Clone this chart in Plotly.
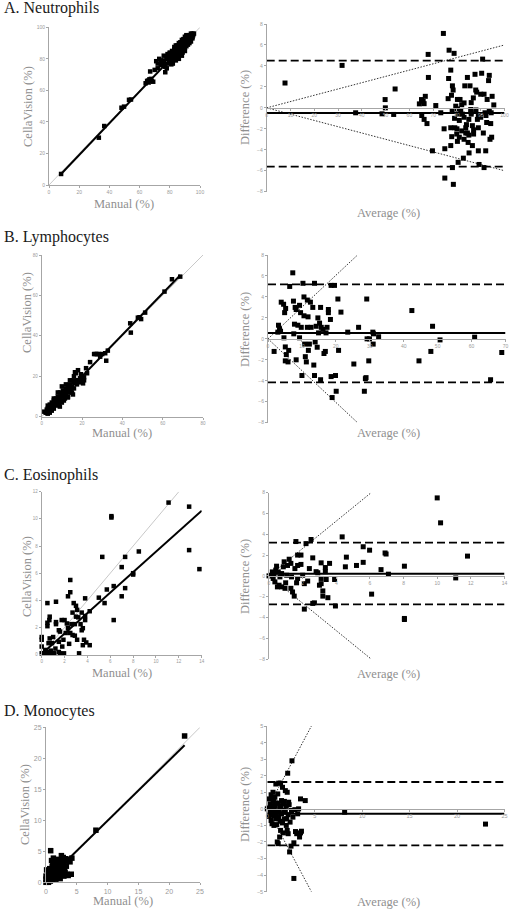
import plotly.graph_objects as go

W, H = 510, 909

# ---------------- A. Neutrophils ----------------
neut_manual = [8, 33, 36.6, 48, 49.7, 53, 54.3, 64, 65, 65.8,
               66.5, 67, 67.5, 68, 69, 66, 65.3, 71, 72, 73,
               74, 75, 76, 76, 77, 77, 78, 78, 78.5, 79,
               79.5, 80, 80, 80.5, 81, 81, 81.5, 82, 82, 82.5,
               83, 83, 83.5, 84, 84, 84.5, 85, 85, 85.5, 86,
               86, 86.5, 87, 87, 87.5, 88, 88, 88.5, 89, 89,
               89.5, 90, 90, 90.5, 91, 91, 91.5, 92, 92, 92.5,
               93, 93, 93.5, 94, 94, 94.5, 95, 95, 95.5, 96,
               92, 90, 88, 86, 84, 82, 89, 91, 87, 85,
               83, 80, 78, 76, 74, 72, 70, 93, 94, 95,
               91, 90, 88, 86, 84]
neut_cv = [7, 30, 37.4, 49, 49.7, 54, 54.2, 64.5, 66, 66.2,
           67, 72, 67.3, 66, 65.5, 65, 65.8, 78.5, 77, 80,
           76, 78, 79, 82, 71.5, 75, 74, 80, 83, 77,
           81, 78, 84, 82, 76.5, 80, 85, 79, 83, 81,
           86, 84, 80, 82, 85, 87, 83, 86, 81, 88,
           84, 86, 83, 89, 85, 87, 90, 84, 88, 86,
           91, 89, 87, 93, 90, 88, 92, 94, 90, 91,
           95, 92, 94, 93, 96, 95, 94, 96, 95, 96,
           89, 85, 82, 80, 79, 77, 92.5, 94.5, 90.5, 88.5,
           87.5, 83.5, 81.5, 77, 79, 74, 73, 90, 91, 93,
           95, 94, 92, 90, 88.5]
neut_fit_x = [8, 96]
neut_fit_y = [7.0, 95.5]
neut_avg = [7.7, 31.7, 37.4, 48.5, 49.8, 49.9, 53.4, 54.0, 64.2, 65.1,
            65.8, 65.2, 66.2, 66.7, 66.2, 67.4, 68.0, 67.9, 71.1, 69.7,
            74.3, 73.2, 74.6, 74.9, 74.9, 76.7, 78.8, 77.4, 76.5, 76.3,
            77.7, 78.1, 78.4, 77.4, 77.8, 77.4, 78.1, 78.5, 79.1, 79.5,
            80.2, 80.5, 80.2, 79.9, 80.2, 80.5, 81.3, 81.6, 82.3, 82.7,
            83.3, 83.0, 83.7, 83.7, 84.4, 84.4, 84.7, 85.1, 85.5, 85.8,
            86.0, 86.5, 86.5, 86.9, 87.6, 87.9, 88.3, 88.6, 89.0, 89.3,
            90.0, 90.4, 90.8, 91.1, 91.4, 91.4, 91.8, 92.1, 92.2, 92.5,
            92.7, 93.3, 93.6, 93.6, 93.9, 94.2, 94.4, 94.6, 94.8, 95.5,
            79, 80, 81, 82, 83, 84, 85, 86, 87, 88,
            89, 90, 81, 83, 85, 87, 89, 78, 82, 86]
neut_diff = [2.37, 4.05, -0.47, -0.57, 0.79, 0.0, -0.63, 1.8, 0.38, 0.79,
             0.63, -0.73, -1.1, 1.1, 0.4, -1.5, 2.9, 5.1, 0.22, -4.1,
             7.1, -0.47, -2.0, -3.9, -6.7, 5.5, 5.2, 3.6, 2.8, 0.88,
             1.2, 2.1, 1.7, -1.9, -2.75, -3.6, -5.7, -7.3, -1.9, 0.16,
             -0.1, -0.6, 0.8, -2.5, -3.2, -5.2, 0.8, -0.3, -0.6, -4.8,
             2.1, 0.47, -1.9, -2.4, 2.9, -2.4, -3.3, -4.3, 2.1, -0.16,
             -0.6, -1.7, -3.6, 0.95, 3.2, 1.7, 1.5, -1.1, -4.1, -5.4,
             1.3, 3.3, 4.65, -2.4, 1.3, -5.7, -0.47, -4.1, -0.73, -1.4,
             0.8, 2.6, 3.1, -0.3, -3.0, -1.5, -0.47, -2.8, 1.1, 0.28,
             -1.0, -2.0, -1.2, -2.2, -0.9, -1.6, -2.6, -0.4, -2.1, -0.2,
             -1.9, -0.9, -2.8, -3.0, -1.1, -2.5, -0.7, -0.3, 0.3, 0.5]
neut_bias = -0.5
neut_loa = [4.5, -5.6]
neut_cone = [100, 6]

# ---------------- B. Lymphocytes ----------------
lymph_manual = [1.3, 2, 2.5, 3, 3, 3.5, 4, 4, 4.5, 5,
                5, 5.5, 6, 6, 6.5, 7, 7, 7.5, 8, 8,
                8.5, 9, 9, 9.5, 10, 10, 10.5, 11, 11, 11.5,
                12, 12, 12.5, 13, 13, 13.5, 14, 14, 14.5, 15,
                15, 15.5, 16, 16, 16.5, 17, 17, 17.5, 18, 18,
                18.5, 19, 19, 19.5, 20, 20.5, 21, 21, 22, 22.5,
                24, 26, 26.8, 27.5, 28.2, 29, 30, 31.5, 32, 32.8,
                43.9, 44.2, 47.7, 48.5, 49.3, 51.3, 60.9, 64.6, 68.7, 8,
                6, 10, 12, 14, 9, 11, 13, 15, 5, 4,
                16, 3]
lymph_cv = [2.5, 2, 3.5, 4, 5.5, 3, 6, 4.5, 3.5, 7,
            5, 6, 4, 8, 6.5, 5.5, 9, 7, 8, 10,
            6, 9.5, 12, 8, 11, 7, 13, 10, 12, 9,
            14, 11, 13, 10, 15, 12, 14, 16, 13, 18,
            15, 11, 17, 14, 22, 18, 21.5, 16, 23, 18,
            17, 19, 17.5, 21, 20, 16.5, 18, 19.5, 24, 21.5,
            27, 31, 31, 31, 31, 29.7, 31, 31.4, 27.7, 32.7,
            46.2, 41.6, 49, 49.2, 48.3, 51.5, 61.9, 68, 69.3, 12,
            9, 15, 16, 18, 5, 8, 9.5, 12, 3, 2,
            20, 1.5]
lymph_fit_x = [1.5, 68.7]
lymph_fit_y = [1.0, 70.0]
lymph_avg = [1.8, 3.1, 3.4, 2.9, 3.7, 3.9, 4.6, 4.9, 5.2, 4.7,
             5.1, 5.4, 5.1, 5.9, 6.1, 6.4, 7.3, 7.5, 7.6, 7.8,
             8.0, 8.3, 8.3, 8.8, 9.3, 9.3, 9.6, 9.8, 10.0, 10.3,
             10.6, 10.6, 10.8, 11.0, 11.3, 11.6, 11.6, 11.8, 11.9, 12.2,
             12.5, 12.7, 13.2, 13.5, 13.7, 13.7, 13.9, 14.2, 14.5, 14.7,
             14.9, 15.2, 15.5, 15.5, 15.7, 16.2, 16.5, 16.9, 17.1, 17.4,
             17.8, 17.8, 18.4, 18.6, 18.6, 18.9, 19.6, 19.9, 20.1, 20.6,
             20.8, 21.5, 23.5, 25.3, 26.7, 28.7, 28.9, 28.4, 29.1, 29.2,
             29.7, 29.9, 30.9, 31.0, 31.1, 32.6, 42.4, 44.5, 48.5, 48.0,
             50.7, 60.9, 65.6, 68.9]
lymph_diff = [-1.2, 1.3, 0.96, 0.64, 0.73, 3.5, 3.3, 2.5, 2.9, 0.1,
              -0.77, -1.5, -2.1, -2.2, -1.1, 5.0, 6.3, 3.6, 0.48, 1.4,
              3.0, -2.0, 2.8, 1.3, 3.2, 0.1, 2.5, 1.1, -3.5, 5.3,
              4.0, 2.2, -0.5, -1.7, -2.2, 3.7, 1.1, 2.1, -1.1, -0.5,
              3.5, 1.1, 3.0, -2.5, 5.3, -3.5, -0.3, 1.2, -0.8, 2.0,
              0.57, 1.5, 3.0, -3.9, 1.1, 0.9, -1.4, -1.2, 0.57, 1.1,
              2.5, 2.8, 1.85, -3.6, 5.1, -5.6, 5.1, -3.5, -5.0, 3.8,
              -1.1, 2.55, 0.64, -2.4, 1.1, -3.8, -3.7, -5.0, 3.8, 0.0,
              -2.1, 0.0, 0.64, -0.5, 0.48, 0.2, 2.7, -2.1, 1.2, -1.2,
              -0.1, 0.16, -3.9, -1.3]
lymph_bias = 0.55
lymph_loa = [5.2, -4.15]
lymph_cone = [26.4, 8]

# ---------------- C. Eosinophils ----------------
eos_manual = [11.1, 12.9, 12.9, 13.8, 6.1, 6.1, 5.3, 7.3, 8.5, 7.0,
              8.0, 8.0, 6.3, 5.7, 7.3, 7.0, 5.0, 5.5, 6.3, 2.5,
              2.5, 2.3, 2.8, 3.0, 3.1, 0.5, 1.25, 3.8, 3.5, 4.2,
              3.8, 3.2, 2.0, 1.75, 2.2, 1.25, 0.67, 0.5, 0.7, 0.5,
              1.25, 1.5, 1.6, 2.1, 2.3, 2.5, 2.6, 2.9, 3.0, 3.5,
              3.8, 3.6, 3.4, 2.9, 3.1, 2.7, 3.7, 3.9, 4.2, 3.6,
              1.9, 1.5, 1.0, 0.7, 0.6, 0.9, 0, 0, 0, 0,
              0.4, 0.7, 1.0, 1.6, 1.95, 0.3, 1.2, 2.7, 3.27, 1.5,
              0.2, 0.8, 1.1, 0.1, 0.5, 1.8, 2.4]
eos_cv = [11.2, 10.9, 7.7, 6.3, 10.2, 10.1, 7.2, 7.2, 7.6, 6.45,
          6.0, 5.9, 5.05, 4.8, 4.9, 4.3, 4.2, 3.8, 2.55, 5.5,
          4.6, 4.3, 3.8, 3.6, 3.3, 3.8, 3.9, 4.15, 3.1, 3.2,
          2.85, 2.75, 2.55, 2.55, 2.3, 2.4, 2.55, 2.35, 2.8, 2.1,
          2.25, 1.8, 1.7, 1.6, 1.95, 1.6, 2.25, 2.25, 2.8, 1.8,
          2.55, 1.95, 2.25, 1.4, 1.1, 1.45, 1.1, 0.9, 0.7, 0.7,
          1.1, 0.95, 1.3, 1.2, 0.85, 0.85, 1.3, 1.1, 0.6, 0.1,
          0.1, 0.1, 0.1, 0.1, 0.1, 0.35, 0.45, 3.1, 0.1, 0.2,
          0.1, 0.3, 0.1, 0.1, 0.2, 0.6, 0.8]
eos_fit_x = [0, 14]
eos_fit_y = [0.05, 10.6]
eos_avg = [10.0, 10.2, 11.8, 11.1, 8.05, 8.05, 8.05, 7.1, 6.9, 6.96,
           6.66, 6.1, 5.98, 5.6, 5.6, 5.2, 4.6, 4.54, 4.35, 3.95,
           3.9, 3.6, 3.5, 3.35, 3.35, 3.4, 3.2, 3.2, 3.1, 3.1,
           3.1, 2.9, 3.0, 2.8, 2.7, 2.6, 2.6, 2.5, 2.4, 2.3,
           2.2, 2.1, 2.1, 2.0, 1.9, 1.9, 1.7, 1.7, 1.64, 1.6,
           1.54, 1.5, 1.4, 1.3, 1.3, 1.2, 1.1, 1.05, 0.99, 0.95,
           0.9, 0.85, 0.75, 0.65, 0.6, 0.55, 0.45, 0.4, 0.3, 0.25,
           0.2, 0.1, 0.0, 0.35, 0.5, 0.75, 1.34, 1.7]
eos_diff = [7.5, 5.1, 1.9, -0.2, -4.1, -4.2, 0.93, 0.16, 2.2, 2.1,
            0.6, -1.76, 2.47, 2.8, 1.3, 1.0, 1.8, 0.87, 3.75, -2.9,
            -0.35, 1.2, -2.1, 0.8, 0.4, -0.35, -1.45, -1.95, -0.75, -0.25,
            1.25, 0.3, -0.9, 0.4, -2.6, -2.65, 1.73, 3.5, 0.7, -0.5,
            3.1, -3.2, -0.75, 0.06, 1.1, 2.0, 1.0, 2.0, -0.67, 3.3,
            0.7, -1.95, -1.55, 1.2, -1.2, 1.6, 1.0, 0.06, -0.67, -1.2,
            1.35, 0.87, 0.22, -0.1, -0.9, 0.38, 0.93, 0.55, 0.16, -0.25,
            0.38, 0.0, 0.0, -0.58, -1.06, -1.06, -0.1, -0.25]
eos_bias = 0.2
eos_loa = [3.2, -2.75]
eos_cone = [6.07, 8]

# ---------------- D. Monocytes ----------------
mono_manual = [0, 0, 0, 0.1, 0.2, 0.3, 0.3, 0.4, 0.5, 0.5,
               0.6, 0.6, 0.7, 0.76, 0.8, 0.8, 0.9, 0.9, 1.0, 1.0,
               1.0, 1.1, 1.1, 1.2, 1.2, 1.3, 1.3, 1.4, 1.4, 1.5,
               1.5, 1.6, 1.6, 1.7, 1.8, 1.8, 1.9, 2.0, 2.0, 2.0,
               2.1, 2.2, 2.2, 2.3, 2.4, 2.5, 2.5, 2.6, 2.7, 2.8,
               2.8, 2.9, 3.0, 3.0, 3.1, 3.2, 3.3, 3.4, 3.5, 3.6,
               3.7, 3.9, 4.1, 4.2, 0.2, 0.4, 0.7, 1.2, 1.7, 2.4,
               8.1, 22.5]
mono_cv = [0, 0.5, 1.0, 2.0, 0.3, 1.2, 0.7, 0, 1.5, 0.5,
           2.2, 1.0, 0.2, 5.1, 1.8, 0.8, 3.5, 1.3, 0.4, 2.5,
           1.0, 3.0, 1.7, 3.9, 0.6, 2.0, 1.2, 2.8, 0.9, 1.5,
           3.3, 2.3, 0.5, 1.8, 3.6, 1.0, 2.6, 3.7, 1.4, 0.8,
           2.1, 3.0, 1.7, 0.6, 2.4, 4.3, 1.2, 3.4, 1.9, 4.0,
           2.8, 1.0, 3.5, 2.2, 1.6, 3.8, 2.6, 1.3, 3.4, 1.1,
           3.7, 3.3, 1.3, 3.9, 0.1, 0.9, 1.4, 2.3, 2.9, 3.2,
           8.4, 23.6]
mono_fit_x = [0.2, 22.5]
mono_fit_y = [0.4, 22.1]
mono_avg = [0, 0.1, 0.2, 0.3, 0.3, 0.4, 0.4, 0.5, 0.5, 0.6,
            0.6, 0.7, 0.7, 0.8, 0.8, 0.9, 0.9, 1.0, 1.0, 1.05,
            1.1, 1.1, 1.15, 1.2, 1.2, 1.3, 1.3, 1.35, 1.4, 1.4,
            1.5, 1.5, 1.6, 1.6, 1.7, 1.7, 1.8, 1.8, 1.9, 1.9,
            2.0, 2.0, 2.1, 2.1, 2.15, 2.2, 2.2, 2.3, 2.35, 2.4,
            2.5, 2.55, 2.6, 2.7, 2.8, 2.8, 2.9, 2.97, 3.1, 3.2,
            3.3, 3.4, 3.5, 3.5, 3.6, 4.0, 8.15, 23.0, 0.15, 0.25,
            0.45, 0.55, 0.65, 0.75, 0.85, 0.95, 1.25, 1.45, 1.75, 2.05,
            2.25, 1.15]
mono_diff = [0, 0.05, -0.45, 0.3, -0.2, 0.85, -0.7, 0.1, -0.9, 1.0,
             0.45, -0.4, -1.0, 0.7, 0.2, -0.6, 1.5, -0.15, -0.95, -2.0,
             0.9, 0.35, -2.1, -0.5, 1.55, -1.7, 0.1, -0.75, 1.55, -1.3,
             0.5, -0.3, -0.85, 1.3, 0.3, -1.45, -0.6, 0.45, 1.1, -0.2,
             -1.0, 0.15, 1.0, -1.3, 2.15, -0.35, -1.5, 0.25, -2.6, -0.8,
             -2.25, -0.1, 2.9, -0.5, -2.05, -4.2, -0.05, -1.37, -1.5, -0.3,
             0.0, -1.7, 0.6, -1.45, -1.35, 0.5, -0.2, -0.92, 0.6, -0.05,
             0.15, -0.35, 0.6, -0.1, 0.35, -0.45, -0.2, 0.2, -0.1, -0.6,
             0.4, -0.6]
mono_bias = -0.3
mono_loa = [1.62, -2.2]
mono_cone = [4.65, 5]

titles = ["A. Neutrophils", "B. Lymphocytes", "C. Eosinophils", "D. Monocytes"]

AXIS = "#a6a6a6"
TICK = "#9a9a9a"
LABEL = "#8f8f8f"
SERIF = "Liberation Serif"


def px_x(v):
    return v / W


def px_y(v):
    return 1 - v / H


def ax_name(k):
    return "" if k == 1 else str(k)


def axis_style(size, dtick, rng):
    return dict(range=rng, dtick=dtick, showline=True, linecolor=AXIS, linewidth=1,
                ticks="outside", ticklen=2, tickcolor=AXIS, tickwidth=1,
                tickfont=dict(family="Liberation Sans", size=size, color=TICK),
                showgrid=False, zeroline=False, fixedrange=True, automargin=False)


fig = go.Figure()
layout_axes = {}


def scatter_panel(k, man, cv, fx, fy, ident, box, rng, dtick, tsize, msize):
    xs, ys = "x" + ax_name(k), "y" + ax_name(k)
    fig.add_trace(go.Scatter(x=[0, ident[0]], y=[0, ident[1]], mode="lines",
                             line=dict(color="#c8c8c8", width=1), xaxis=xs, yaxis=ys))
    fig.add_trace(go.Scatter(x=man, y=cv, mode="markers", cliponaxis=False,
                             marker=dict(symbol="square", size=msize, color="black"),
                             xaxis=xs, yaxis=ys))
    fig.add_trace(go.Scatter(x=fx, y=fy, mode="lines", line=dict(color="black", width=2),
                             xaxis=xs, yaxis=ys))
    l, r, t, b = box
    xa = axis_style(tsize, dtick, rng[0])
    xa.update(domain=[px_x(l), px_x(r)], anchor=ys)
    ya = axis_style(tsize, dtick, rng[1])
    ya.update(domain=[px_y(b), px_y(t)], anchor=xs)
    layout_axes["xaxis" + ax_name(k)] = xa
    layout_axes["yaxis" + ax_name(k)] = ya


def ba_panel(k, avg, diff, bias, loa, cone, box, rng, dticks, tsize, msize):
    xs, ys = "x" + ax_name(k), "y" + ax_name(k)
    for s in (1, -1):
        fig.add_trace(go.Scatter(x=[0, cone[0]], y=[0, s * cone[1]], mode="lines",
                                 line=dict(color="#333333", width=1, dash="1.5px,1.5px"),
                                 xaxis=xs, yaxis=ys))
    fig.add_trace(go.Scatter(x=avg, y=diff, mode="markers", cliponaxis=False,
                             marker=dict(symbol="square", size=msize, color="black"),
                             xaxis=xs, yaxis=ys))
    xmax = rng[0][1]
    fig.add_trace(go.Scatter(x=[0, xmax], y=[bias, bias], mode="lines",
                             line=dict(color="black", width=2), xaxis=xs, yaxis=ys))
    for v in loa:
        fig.add_trace(go.Scatter(x=[0, xmax], y=[v, v], mode="lines",
                                 line=dict(color="black", width=1.8, dash="8px,4px"),
                                 xaxis=xs, yaxis=ys))
    l, r, t, b = box
    xa = axis_style(tsize, dticks[0], rng[0])
    xa.update(domain=[px_x(l), px_x(r)], anchor="free", position=px_y((t + b) / 2))
    ya = axis_style(tsize, dticks[1], rng[1])
    ya.update(domain=[px_y(b), px_y(t)], anchor=xs)
    layout_axes["xaxis" + ax_name(k)] = xa
    layout_axes["yaxis" + ax_name(k)] = ya


scatter_panel(1, neut_manual, neut_cv, neut_fit_x, neut_fit_y, [100, 100],
              (49, 200, 27.3, 185), ([0, 100], [0, 100]), 20, 5, 4.5)
ba_panel(2, neut_avg, neut_diff, neut_bias, neut_loa, neut_cone,
         (266.7, 504.5, 24, 191.7), ([0, 100], [-8, 8]), (10, 2), 5, 5)
scatter_panel(3, lymph_manual, lymph_cv, lymph_fit_x, lymph_fit_y, [80, 80],
              (41.7, 203, 255, 416.7), ([0, 80], [0, 80]), 20, 4.5, 4.5)
ba_panel(4, lymph_avg, lymph_diff, lymph_bias, lymph_loa, lymph_cone,
         (268, 505.5, 255, 422.7), ([0, 70], [-8, 8]), (10, 2), 5, 5)
scatter_panel(5, eos_manual, eos_cv, eos_fit_x, eos_fit_y, [12, 12],
              (41.7, 201.7, 491.7, 654.7), ([0, 14], [0, 12]), 2, 4.5, 4.5)
ba_panel(6, eos_avg, eos_diff, eos_bias, eos_loa, eos_cone,
         (269, 504.5, 492.7, 659), ([0, 14], [-8, 8]), (2, 2), 5, 5)
scatter_panel(7, mono_manual, mono_cv, mono_fit_x, mono_fit_y, [25, 25],
              (46, 200, 727.3, 882.3), ([0, 25], [0, 25]), 5, 7, 5.5)
ba_panel(8, mono_avg, mono_diff, mono_bias, mono_loa, mono_cone,
         (267.3, 504.5, 726, 891.7), ([0, 25], [-5, 5]), (5, 1), 5.5, 5)

# text positions (pixels)
title_y = [8, 237, 475, 711]
ylab_pos = [(28, 107, 245, 108), (27, 313, 245, 330), (27, 577, 245, 577), (25, 805, 245, 805)]
xlab_pos = [(124, 204, 388, 213), (122, 433, 388, 433), (122, 673, 388, 674), (123, 901, 388, 902)]


def label(text, x, y, angle=0, size=12.5, color=LABEL, xanchor="center"):
    return dict(text=text, x=px_x(x), y=px_y(y), xref="paper", yref="paper",
                xanchor=xanchor, yanchor="middle", textangle=angle, showarrow=False,
                font=dict(family=SERIF, size=size, color=color))


annotations = []
for i in range(4):
    annotations.append(label(titles[i], 2, title_y[i], size=16, color="#1a1a1a", xanchor="left"))
    cx, cy, dx, dy = ylab_pos[i]
    annotations.append(label("CellaVision (%)", cx, cy, angle=-90))
    annotations.append(label("Difference (%)", dx, dy, angle=-90))
    mx, my, ax_, ay = xlab_pos[i]
    annotations.append(label("Manual (%)", mx, my))
    annotations.append(label("Average (%)", ax_, ay))

fig.update_layout(template="none", width=W, height=H, margin=dict(l=0, r=0, t=0, b=0, pad=0),
                  paper_bgcolor="white", plot_bgcolor="white", showlegend=False,
                  hovermode=False, annotations=annotations, **layout_axes)

fig.write_html("out.html", config={"displayModeBar": False, "staticPlot": True},
               post_script="document.body.style.margin='0px';document.body.style.overflow='hidden';")
